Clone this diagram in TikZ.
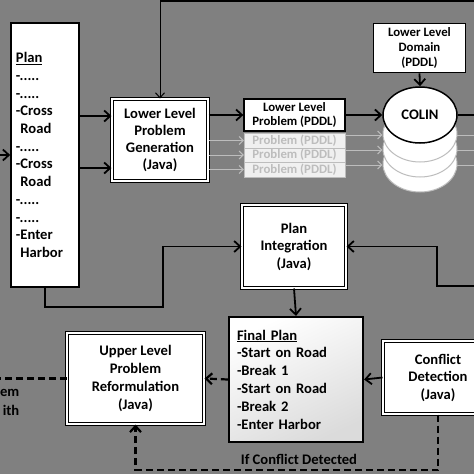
\documentclass[tikz,border=0pt]{standalone}
\usepackage{fontspec}
\setmainfont{Carlito}
\usetikzlibrary{shapes.geometric,arrows.meta}
\definecolor{bggray}{gray}{0.5}
\definecolor{fadegray}{gray}{0.74}
\definecolor{fadefill}{gray}{0.94}
\newcommand{\bigtxt}[1]{\bfseries\fontsize{14.6}{#1}\selectfont}
\newcommand{\smalltxt}[1]{\bfseries\fontsize{12.8}{#1}\selectfont}

\begin{document}
\begin{tikzpicture}[x=1pt, y=-1pt, font=\bfseries,
    every node/.style={inner sep=0pt, align=center},
    box/.style={rectangle, draw, fill=white, line width=1.6pt},
    javabox/.style={rectangle, draw, fill=white, line width=1.4pt, double=white, double distance=1.6pt},
    fadebox/.style={rectangle, draw=fadegray, fill=fadefill, text=fadegray, minimum width=101, minimum height=14.5, font=\smalltxt{12}},
    layer/.style={ellipse, draw=fadegray, fill=white, line width=1pt, minimum width=74, minimum height=56},
    arr/.style={line width=1.8pt, -{Straight Barb[length=6pt,width=11pt]}},
    fadearr/.style={line width=1pt, fadegray, -{Straight Barb[length=4pt,width=8pt]}},
    dasharr/.style={line width=2.2pt, dash pattern=on 7pt off 4pt}]
    \useasboundingbox (0,0) rectangle (474,474);
    \clip (0,0) rectangle (474,474);
    \fill[bggray] (0,0) rectangle (474,474);

    % Plan
    \node[box, minimum width=68, minimum height=264, text width=58, align=left,
          font=\bigtxt{17.7}] (plan) at (45,155)
        {\underline{Plan}\\-.....\\-.....\\-Cross\\\phantom{-}Road\\-.....\\-Cross\\\phantom{-}Road\\-.....\\-.....\\-Enter\\\phantom{-}Harbor};

    % Lower level chain
    \node[javabox, minimum width=95.6, minimum height=81.6, font=\bigtxt{17.3}] (llpg) at (160,140)
        {Lower Level\\Problem\\Generation\\(Java)};
    \node[box, line width=1.3pt, minimum width=101, minimum height=32, font=\smalltxt{14}] (llp) at (294.5,115)
        {Lower Level\\Problem (PDDL)};
    \node[fadebox] (fadeA) at (294.5,140.5) {Problem (PDDL)};
    \node[fadebox] (fadeB) at (294.5,155) {Problem (PDDL)};
    \node[fadebox] (fadeC) at (294.5,169.5) {Problem (PDDL)};

    % COLIN planner stack
    \node[layer] (colinC) at (420,164) {};
    \node[layer] (colinB) at (420,149) {};
    \node[layer] (colinA) at (420,134) {};
    \node[ellipse, draw, fill=white, line width=1.5pt, minimum width=74, minimum height=56,
          font=\bigtxt{15}] (colin) at (420,115) {COLIN};
    \node[box, minimum width=92, minimum height=49, font=\smalltxt{15}] (domain) at (419.5,48)
        {Lower Level\\Domain\\(PDDL)};

    % Integration and final plan
    \node[javabox, minimum width=103.6, minimum height=82.6, font=\bigtxt{17.5}] (integ) at (294,246.5)
        {Plan\\Integration\\(Java)};
    \node[rectangle, draw, line width=2.2pt, top color=white, bottom color=gray!28, shading angle=25,
          minimum width=134, minimum height=125, text width=118, align=left,
          font=\bigtxt{17.8}] (final) at (296,379.5)
        {\underline{Final Plan}\\-Start on Road\\-Break 1\\-Start on Road\\-Break 2\\-Enter Harbor};
    \node[javabox, minimum width=109.6, minimum height=72.6, font=\bigtxt{17.5}] (conflict) at (438,377.5)
        {Conflict\\Detection\\(Java)};
    \node[javabox, minimum width=136.6, minimum height=90.6, font=\bigtxt{18}] (upper) at (135.5,378.5)
        {Upper Level\\Problem\\Reformulation\\(Java)};

    % Cut texts at the border
    \node[anchor=east, font=\bigtxt{15}] (cutA) at (19.5,393) {em};
    \node[anchor=east, font=\bigtxt{15}] (cutB) at (19.5,410) {ith};

    % Coordinates on the border
    \coordinate (topR) at (474,1);
    \coordinate (topL) at (160,1);
    \coordinate (inL) at (0,155);
    \coordinate (outR) at (474,115);
    \coordinate (backR) at (474,286);
    \coordinate (outL) at (0,378.5);

    % Connectors
    \draw[line width=2.4pt] (topR) -- (topL);
    \draw[line width=1pt, -{Straight Barb[length=5pt,width=9pt]}] (topL) -- (llpg.north);
    \draw[arr] (inL) -- (plan.west);
    \draw[arr] (plan.east |- 0,116) -- (llpg.west |- 0,116);
    \draw[arr] (plan.east |- 0,168) -- (llpg.west |- 0,168);
    \draw[arr] (llpg.east |- llp.west) -- (llp.west);
    \foreach \f in {fadeA,fadeB,fadeC}
        \draw[fadearr] (llpg.east |- \f.west) -- (\f.west);
    \draw[arr] (llp.east) -- (colin.west);
    \draw[fadearr] (fadeA.east |- 0,135) -- (colin.west |- 0,135);
    \draw[fadearr] (fadeB.east |- 0,150) -- (colin.west |- 0,150);
    \draw[fadearr] (fadeC.east |- 0,165) -- (colin.west |- 0,165);
    \draw[line width=1.8pt] (colin.east) -- (outR);
    \foreach \y in {135,150,165}
        \draw[fadegray, line width=1pt] (457,\y) -- (474,\y);
    \draw[arr] (domain.south) -- (colin.north);

    \draw[arr] (plan.south) |- (163,307) |- (integ.west);
    \draw[arr] (backR) -- (437,286) |- (integ.east);
    \draw[arr] (integ.south) -- (final.north);
    \draw[arr] (conflict.west) -- (final.east);

    % Conflict loop
    \draw[dasharr, -{Straight Barb[length=6pt,width=11pt]}] (final.west) -- (upper.east);
    \draw[dasharr] (upper.west) -- (outL);
    \draw[dasharr, -{Straight Barb[length=6pt,width=11pt]}] (conflict.south) -- (438,470) -| (upper.south);
    \node[font=\bigtxt{15}] (cond) at (299,459) {If Conflict Detected};
\end{tikzpicture}
\end{document}
